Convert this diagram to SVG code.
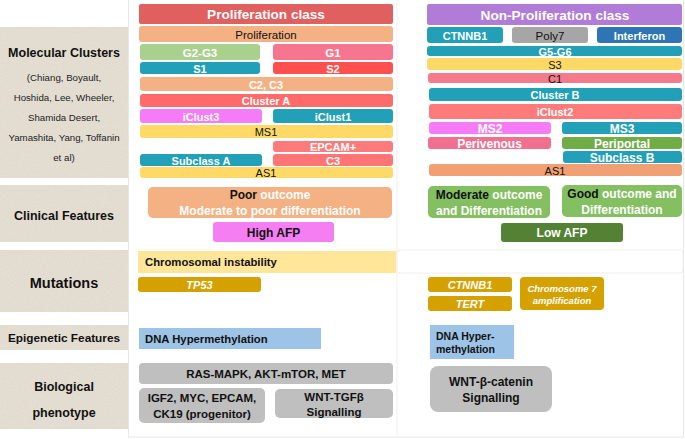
<svg xmlns="http://www.w3.org/2000/svg" width="685" height="439" viewBox="0 0 685 439">
<style>
text{font-family:"Liberation Sans",Arial,sans-serif;text-anchor:middle;dominant-baseline:central}
.lab{font-weight:bold;font-size:12.5px;fill:#111}
.sub{font-size:9.7px;fill:#222}
.wb{font-weight:bold;fill:#fff;font-size:11px}
.db{font-weight:bold;fill:#111;font-size:11px}
.dr{fill:#111;font-size:11px}
.it{font-style:italic}
.st{text-anchor:start}
.panel{fill:#E7E1D5}
.teal{fill:#21A0B8}
.gold{fill:#D4A100}
.yel{fill:#FFD966}
.sal{fill:#F4B183}
.gray{fill:#BFBFBF}
</style>
<defs>
<filter id="grain" x="0" y="0" width="1" height="1">
<feTurbulence type="fractalNoise" baseFrequency="0.9" numOctaves="2" seed="3" result="n"/>
<feColorMatrix in="n" type="matrix" values="0 0 0 0 0.55  0 0 0 0 0.5  0 0 0 0 0.42  0 0 0 0.35 -0.05" result="c"/>
<feComposite in="c" in2="SourceGraphic" operator="in" result="t"/>
<feMerge><feMergeNode in="SourceGraphic"/><feMergeNode in="t"/></feMerge>
</filter>
</defs>
<rect width="685" height="439" fill="#fff"/>
<!-- main white area -->
<rect x="128.5" y="-1" width="555" height="438" fill="#fff" stroke="#E8E8E8" stroke-width="1"/>
<line x1="397" y1="0" x2="397" y2="437" stroke="#EFEFEF" stroke-width="1"/>
<rect x="397" y="250" width="286" height="23" rx="3" fill="#fff" stroke="#EEEEEE"/>

<!-- label column -->
<g id="label-molecular">
<rect class="panel" filter="url(#grain)" x="0" y="27" width="128" height="151"/>
<text class="lab" x="64" y="53">Molecular Clusters</text>
<text class="sub" x="64" y="77">(Chiang, Boyault,</text>
<text class="sub" x="64" y="97">Hoshida, Lee, Wheeler,</text>
<text class="sub" x="64" y="117">Shamida Desert,</text>
<text class="sub" x="64" y="137">Yamashita, Yang, Toffanin</text>
<text class="sub" x="64" y="157">et al)</text>
</g>
<g id="label-clinical">
<rect class="panel" filter="url(#grain)" x="0" y="185" width="128" height="57"/>
<text class="lab" x="64" y="216">Clinical Features</text>
</g>
<g id="label-mutations">
<rect class="panel" filter="url(#grain)" x="0" y="250" width="128" height="62"/>
<text class="lab" x="64" y="283" style="font-size:14.5px">Mutations</text>
</g>
<g id="label-epigenetic">
<rect class="panel" filter="url(#grain)" x="0" y="325" width="128" height="25"/>
<text class="lab" x="64" y="338" style="font-size:11.8px">Epigenetic Features</text>
</g>
<g id="label-biological">
<rect class="panel" filter="url(#grain)" x="0" y="363" width="128" height="66"/>
<text class="lab" x="64" y="387">Biological</text>
<text class="lab" x="64" y="413">phenotype</text>
</g>

<!-- Proliferation column -->
<g id="prolif-class"><rect x="139" y="4" width="254" height="20" rx="2" fill="#E06060"/><text class="wb" x="266" y="14.5" style="font-size:13.6px">Proliferation class</text></g>
<g id="proliferation"><rect class="sal" x="139" y="26" width="254" height="16" rx="3"/><text class="dr" x="266" y="34.5" style="font-size:11.5px">Proliferation</text></g>
<g id="g2g3"><rect x="140" y="44" width="120" height="16" rx="3" fill="#A9D18E"/><text class="wb" x="200" y="52.5" style="font-size:11.5px">G2-G3</text></g>
<g id="g1"><rect x="273" y="44" width="120" height="16" rx="3" fill="#F7768F"/><text class="wb" x="333" y="52.5" style="font-size:11.5px">G1</text></g>
<g id="s1"><rect class="teal" x="140" y="62" width="120" height="12" rx="3"/><text class="wb" x="200" y="68.5">S1</text></g>
<g id="s2"><rect x="273" y="62" width="120" height="12" rx="3" fill="#FF4F4F"/><text class="wb" x="333" y="68.5">S2</text></g>
<g id="c2c3"><rect class="sal" x="140" y="77" width="253" height="14" rx="3"/><text class="wb" x="266" y="84.5">C2, C3</text></g>
<g id="clusterA"><rect x="140" y="94" width="253" height="13" rx="3" fill="#FF6B6B"/><text class="wb" x="266" y="101">Cluster A</text></g>
<g id="iclust3"><rect x="140" y="109" width="122" height="14" rx="3" fill="#F57BF7"/><text class="wb" x="201" y="116.5">iClust3</text></g>
<g id="iclust1"><rect class="teal" x="273" y="109" width="120" height="14" rx="3"/><text class="wb" x="333" y="116.5">iClust1</text></g>
<g id="ms1"><rect class="yel" x="140" y="125" width="253" height="13" rx="3"/><text class="db" x="266" y="132" style="font-weight:normal">MS1</text></g>
<g id="epcam"><rect x="273" y="141" width="120" height="11" rx="3" fill="#FF7A7A"/><text class="wb" x="333" y="147">EPCAM+</text></g>
<g id="subclassA"><rect class="teal" x="140" y="154" width="122" height="12" rx="3"/><text class="wb" x="201" y="160.5">Subclass A</text></g>
<g id="c3"><rect x="273" y="154" width="120" height="12" rx="3" fill="#FF7575"/><text class="wb" x="333" y="160.5">C3</text></g>
<g id="as1-left"><rect class="yel" x="140" y="167" width="253" height="11" rx="3"/><text class="dr" x="266" y="173">AS1</text></g>

<!-- Non-Proliferation column -->
<g id="nonprolif-class"><rect x="427" y="4" width="255" height="21" rx="2" fill="#B07CD8"/><text class="wb" x="555" y="15" style="font-size:13.6px">Non-Proliferation class</text></g>
<g id="ctnnb1"><rect class="teal" x="427" y="27" width="76" height="16" rx="3"/><text class="wb" x="465" y="35.5">CTNNB1</text></g>
<g id="poly7"><rect x="512" y="27" width="76" height="16" rx="3" fill="#A6A6A6"/><text class="dr" x="550" y="35.5" style="font-size:11.5px">Poly7</text></g>
<g id="interferon"><rect x="597" y="27" width="85" height="16" rx="3" fill="#2E75B6"/><text class="wb" x="639.5" y="35.5">Interferon</text></g>
<g id="g5g6"><rect class="teal" x="427" y="46" width="255" height="10" rx="3"/><text class="wb" x="555" y="51.5">G5-G6</text></g>
<g id="s3"><rect class="yel" x="427" y="58" width="255" height="12" rx="3"/><text class="dr" x="555" y="64.5">S3</text></g>
<g id="c1"><rect x="428" y="73" width="254" height="10" rx="3" fill="#F47A8C"/><text class="dr" x="555" y="78.5">C1</text></g>
<g id="clusterB"><rect class="teal" x="429" y="88" width="253" height="13" rx="3"/><text class="wb" x="555" y="95">Cluster B</text></g>
<g id="iclust2"><rect x="429" y="104" width="253" height="15" rx="3" fill="#FF7B7B"/><text class="wb" x="555" y="112">iClust2</text></g>
<g id="ms2"><rect x="429" y="122" width="122" height="12" rx="3" fill="#F57BF7"/><text class="wb" x="490" y="128.5" style="font-size:12px">MS2</text></g>
<g id="ms3"><rect class="teal" x="562" y="122" width="120" height="12" rx="3"/><text class="wb" x="622" y="128.5" style="font-size:12px">MS3</text></g>
<g id="perivenous"><rect x="428" y="137" width="123" height="12" rx="3" fill="#F2708F"/><text class="wb" x="489.5" y="143.5" style="font-size:12px">Perivenous</text></g>
<g id="periportal"><rect x="562" y="137" width="120" height="12" rx="3" fill="#70AD47"/><text class="wb" x="622" y="143.5" style="font-size:12px">Periportal</text></g>
<g id="subclassB"><rect class="teal" x="563" y="151" width="119" height="12" rx="3"/><text class="wb" x="622" y="157.5" style="font-size:12px">Subclass B</text></g>
<g id="as1-right"><rect x="429" y="164" width="253" height="12" rx="3" fill="#F0A072"/><text class="dr" x="555" y="170.5">AS1</text></g>

<!-- Clinical -->
<g id="poor-outcome"><rect class="sal" x="148" y="187" width="244" height="31" rx="5"/>
<text class="wb" x="270" y="195" style="font-size:12px"><tspan fill="#111">Poor</tspan> outcome</text>
<text class="wb" x="270" y="211" style="font-size:12px">Moderate to poor differentiation</text></g>
<g id="high-afp"><rect x="213" y="222" width="121" height="20" rx="3" fill="#F57EF3"/><text class="db" x="273.5" y="232.5" style="font-size:12px">High AFP</text></g>
<g id="moderate-outcome"><rect x="428" y="186" width="122" height="32" rx="5" fill="#84C062"/>
<text class="wb" x="489" y="195" style="font-size:12px"><tspan fill="#111">Moderate</tspan> outcome</text>
<text class="wb" x="489" y="211" style="font-size:12px">and Differentiation</text></g>
<g id="good-outcome"><rect x="562" y="185" width="120" height="32" rx="5" fill="#84C062"/>
<text class="wb" x="622" y="194" style="font-size:12px"><tspan fill="#111">Good</tspan> outcome and</text>
<text class="wb" x="622" y="210" style="font-size:12px">Differentiation</text></g>
<g id="low-afp"><rect x="501" y="223" width="122" height="19" rx="3" fill="#548235"/><text class="wb" x="562" y="233" style="font-size:12px">Low AFP</text></g>

<!-- Mutations -->
<g id="chromosomal-instability"><rect x="138" y="251" width="258" height="22" fill="#FFE699"/><text class="db st" x="145" y="262" style="font-size:11.3px">Chromosomal instability</text></g>
<g id="tp53"><rect class="gold" x="138" y="277" width="123" height="15" rx="3"/><text class="wb it" x="199.5" y="285">TP53</text></g>
<g id="ctnnb1-mut"><rect class="gold" x="428" y="277" width="84" height="15" rx="3"/><text class="wb it" x="470" y="285">CTNNB1</text></g>
<g id="tert"><rect class="gold" x="428" y="296" width="84" height="15" rx="3"/><text class="wb it" x="470" y="304">TERT</text></g>
<g id="chr7"><rect class="gold" x="520" y="277" width="84" height="33" rx="4"/>
<text class="wb it" x="562" y="288.5" style="font-size:9.5px">Chromosome 7</text>
<text class="wb it" x="562" y="300.5" style="font-size:9.5px">amplification</text></g>

<!-- Epigenetic -->
<g id="dna-hyper-left"><rect x="139" y="328" width="182" height="21" fill="#9DC3E6"/><text class="db st" x="145" y="339" style="font-size:11.3px">DNA Hypermethylation</text></g>
<g id="dna-hyper-right"><rect x="430" y="325" width="84" height="34" fill="#9DC3E6"/>
<text class="db st" x="436" y="336" style="font-size:10.5px">DNA Hyper-</text>
<text class="db st" x="436" y="349" style="font-size:10.5px">methylation</text></g>

<!-- Biological -->
<g id="ras-mapk"><rect class="gray" x="139" y="363" width="254" height="21" rx="4"/><text class="db" x="266" y="374" style="font-size:11.5px">RAS-MAPK, AKT-mTOR, MET</text></g>
<g id="igf2"><rect class="gray" x="139" y="388" width="126" height="35" rx="5"/>
<text class="db" x="202" y="398" style="font-size:11.5px">IGF2, MYC, EPCAM,</text>
<text class="db" x="202" y="414" style="font-size:11.5px">CK19 (progenitor)</text></g>
<g id="wnt-tgfb"><rect class="gray" x="275" y="389" width="118" height="29" rx="5"/>
<text class="db" x="334" y="397" style="font-size:11.5px">WNT-TGFβ</text>
<text class="db" x="334" y="412" style="font-size:11.5px">Signalling</text></g>
<g id="wnt-bcatenin"><rect class="gray" x="430" y="366" width="122" height="46" rx="8"/>
<text class="db" x="491" y="382" style="font-size:12px">WNT-β-catenin</text>
<text class="db" x="491" y="398" style="font-size:12px">Signalling</text></g>

<g id="connectors"></g>
</svg>
